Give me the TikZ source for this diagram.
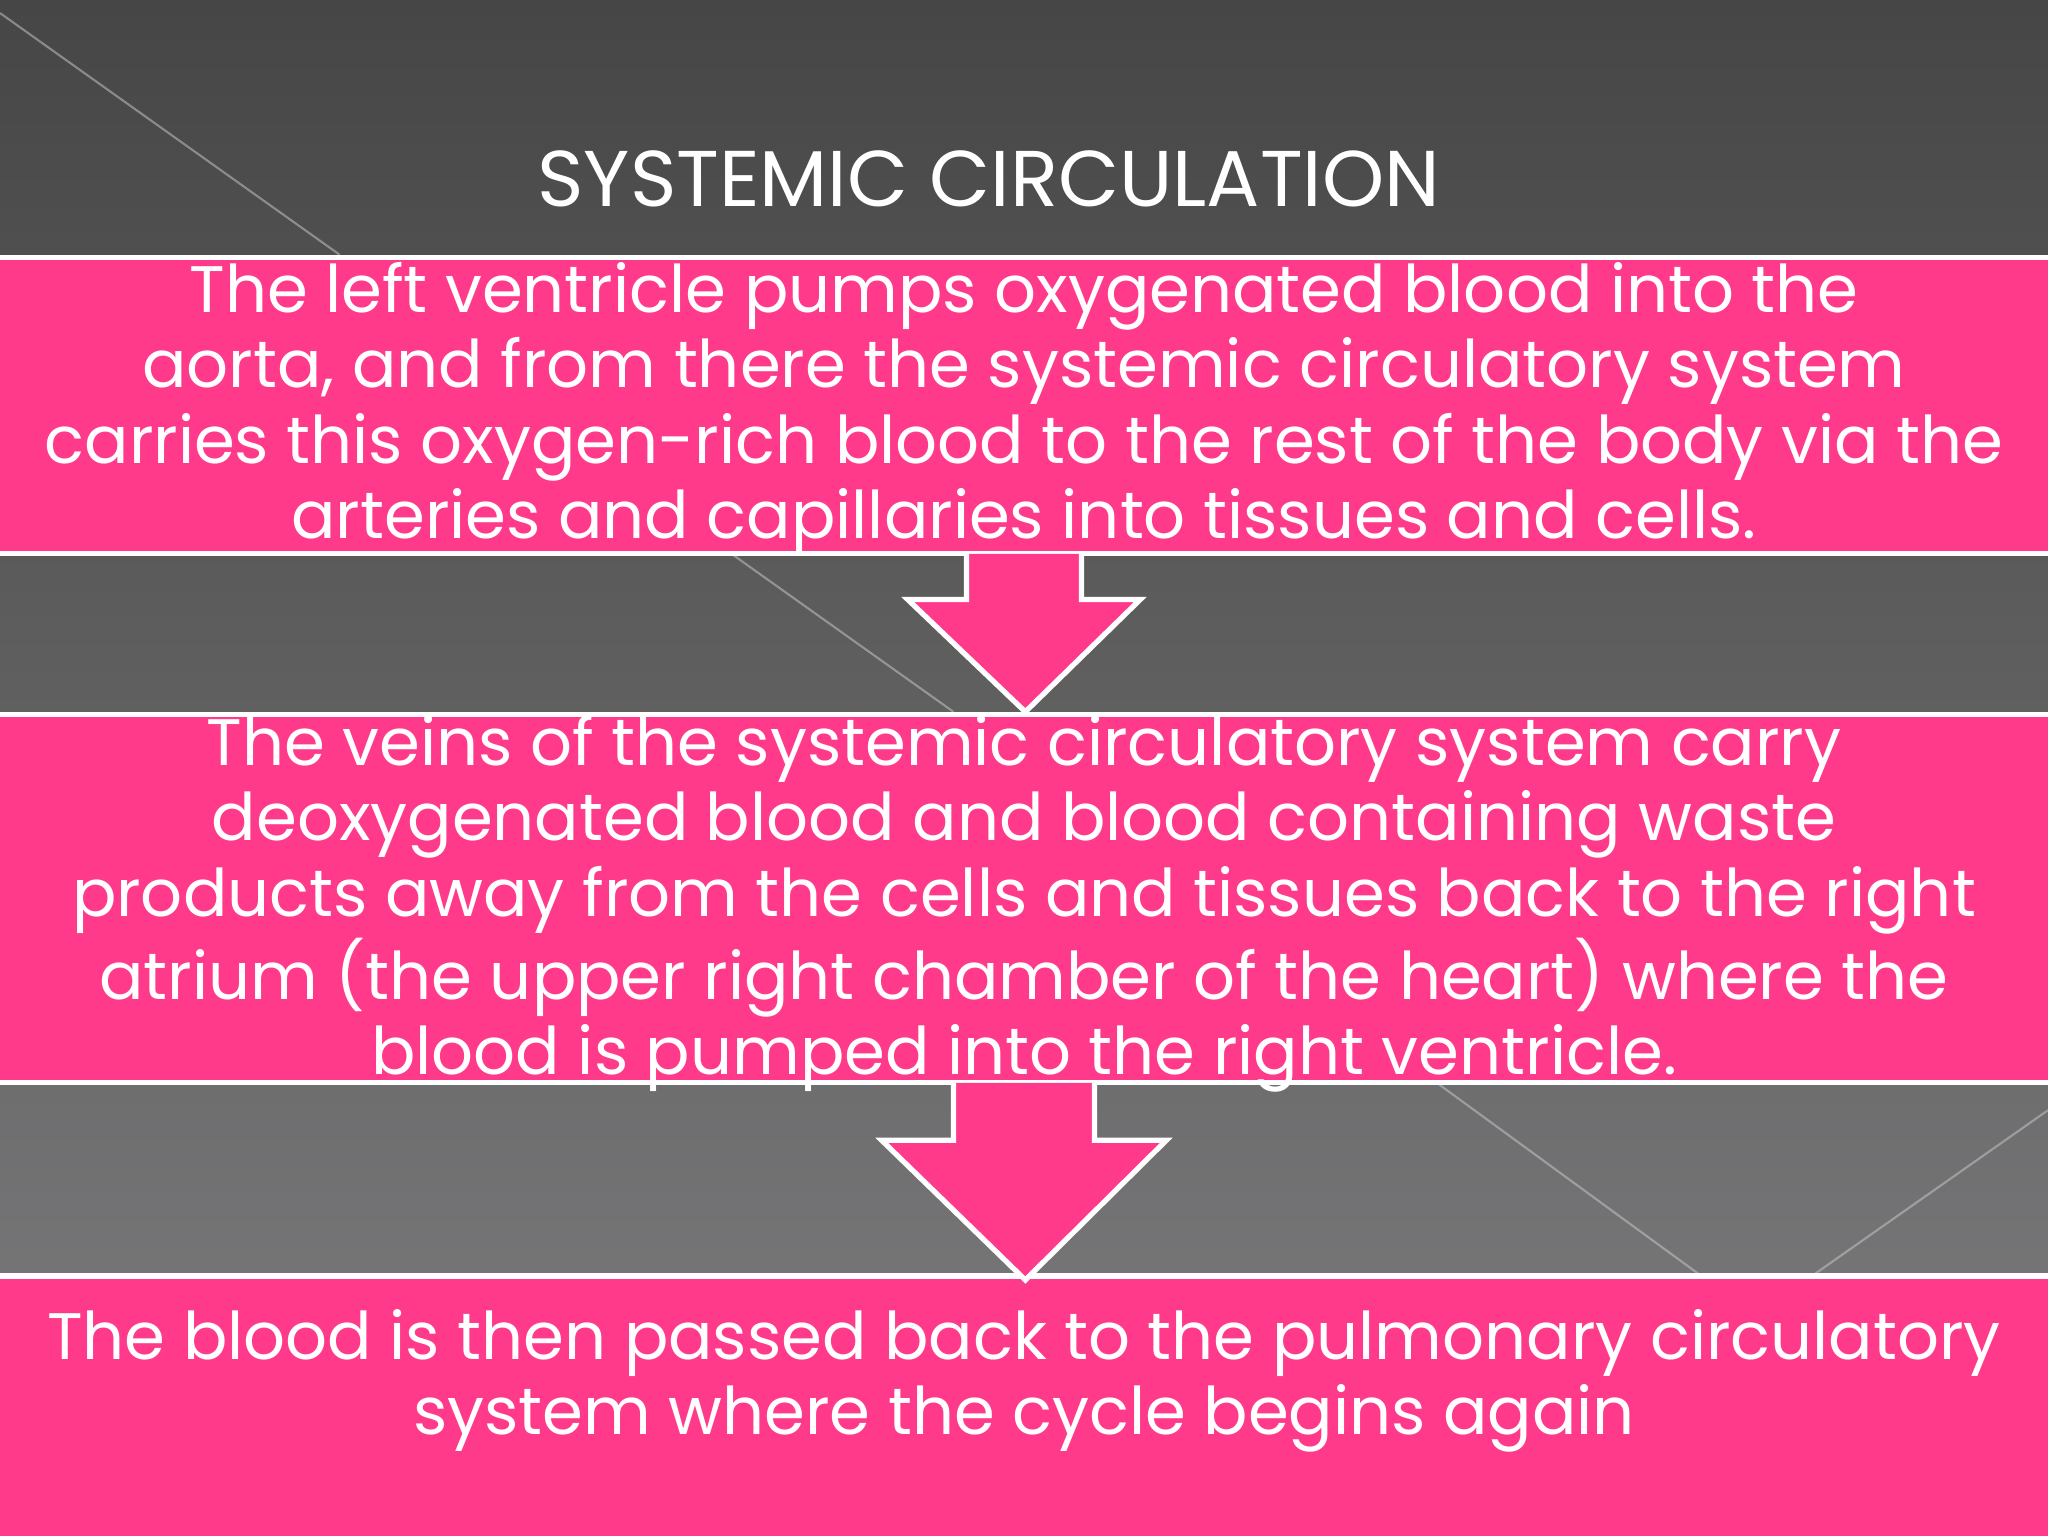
\documentclass[tikz,border=0pt]{standalone}
\usepackage{fontspec}
\setmainfont{Poppins}
\begin{document}
\begin{tikzpicture}[x=0.01306cm,y=-0.01306cm,
  box/.style={draw=white,line width=1.5pt,fill=pinkc},
  txt/.style={text=white,align=center,font=\fontsize{18.7}{21.5}\selectfont},
  arr/.style={draw=white,line width=1.5pt,fill=pinkc,line join=miter}]
\definecolor{pinkc}{HTML}{FF3A8A}
\definecolor{bgtop}{HTML}{464646}
\definecolor{bgbot}{HTML}{7E7E80}
\shade[top color=bgtop,bottom color=bgbot] (0,0) rectangle (1568,1176);
\useasboundingbox (0,0) rectangle (1568,1176);
\draw[white!60!gray,opacity=0.5,line width=0.6pt] (0,10) -- (260,195);
\draw[white!60!gray,opacity=0.5,line width=0.6pt] (560,424) -- (730,545);
\draw[white!60!gray,opacity=0.5,line width=0.6pt] (1100,829) -- (1300,975);
\draw[white!60!gray,opacity=0.5,line width=0.6pt] (1568,850) -- (1390,975);
\node[text=white,font=\fontsize{22.5}{27}\selectfont] (title) at (757,137) {SYSTEMIC CIRCULATION};
\draw[box] (-3,197) rectangle (1571,424);
\node[txt] (t1) at (784,313) {The left ventricle pumps oxygenated blood into the\\aorta, and from there the systemic circulatory system\\carries this oxygen-rich blood to the rest of the body via the\\arteries and capillaries into tissues and cells.};
\draw[box] (-3,547) rectangle (1571,829);
\node[txt] (t2) at (784,692) {The veins of the systemic circulatory system carry\\deoxygenated blood and blood containing waste\\products away from the cells and tissues back to the right\\atrium (the upper right chamber of the heart) where the\\blood is pumped into the right ventricle.};
\draw[box] (-3,977) rectangle (1571,1180);
\node[txt,anchor=north] (t3) at (784,993) {The blood is then passed back to the pulmonary circulatory\\system where the cycle begins again};
\draw[arr] (740,424) -- (740,459) -- (695,459) -- (785,545) -- (873,459) -- (828,459) -- (828,424);
\draw[arr] (730,829) -- (730,873) -- (675,873) -- (785,980) -- (893,873) -- (838,873) -- (838,829);
\end{tikzpicture}
\end{document}
